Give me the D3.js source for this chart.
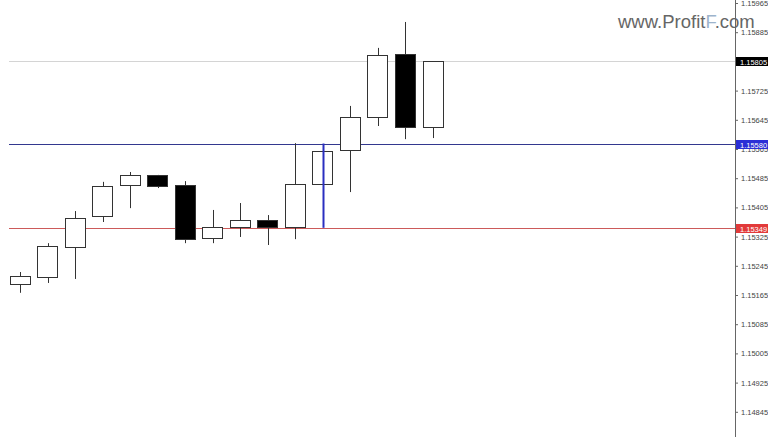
<!DOCTYPE html>
<html><head><meta charset="utf-8">
<script src="https://cdn.jsdelivr.net/npm/d3@7/dist/d3.min.js"></script>
<style>body{margin:0;background:#fff;}svg{display:block;}</style>
</head><body>
<svg id="c" width="768" height="437"></svg>
<script>
const opens  = [1.15195,1.15214,1.15297,1.15381,1.15466,1.15494,1.15466,1.15321,1.15351,1.15370,1.15351,1.15469,1.15562,1.15653,1.15825,1.15625];
const highs  = [1.15228,1.15307,1.15395,1.15475,1.15502,1.15494,1.15477,1.15398,1.15417,1.15384,1.15581,1.15568,1.15683,1.15842,1.15913,1.15806];
const lows   = [1.15171,1.15198,1.15209,1.15365,1.15403,1.15458,1.15307,1.15307,1.15324,1.15302,1.15318,1.15461,1.15447,1.15628,1.15592,1.15595];
const closes = [1.15217,1.15299,1.15376,1.15464,1.15494,1.15464,1.15318,1.15351,1.15370,1.15351,1.15469,1.15560,1.15653,1.15823,1.15625,1.15806];
const tickValues = [1.15965,1.15885,1.15805,1.15725,1.15645,1.15565,1.15485,1.15405,1.15325,1.15245,1.15165,1.15085,1.15005,1.14925,1.14845];
const levelValues = [1.15805,1.15580,1.15349];
const levelLabels = ["1.15805","1.15580","1.15349"];
const levelColors = ["#d4d4d4","#33388f","#cc5a5a"];
const levelBoxColors = ["#000000","#2b2fd6","#e23a3a"];
const markerIndex = 11;

const svg = d3.select("#c");
const axisX = 735;
const y = d3.scaleLinear().domain([1.15965, 1.14845]).range([3, 411.8]);
const x = d3.scaleLinear().domain([0, 15]).range([20, 433]);
const bw = 21;

// level lines
svg.selectAll("line.level").data(levelValues).enter().append("line")
  .attr("x1", 9).attr("x2", axisX)
  .attr("y1", d => Math.round(y(d)) + 0.5).attr("y2", d => Math.round(y(d)) + 0.5)
  .attr("stroke", (d,i) => levelColors[i]).attr("stroke-width", 1);

// candles
const data = opens.map((o,i) => ({i, o, h: highs[i], l: lows[i], c: closes[i]}));
const g = svg.append("g");
g.selectAll("line.wick").data(data).enter().append("line")
  .attr("x1", d => Math.round(x(d.i)) + 0.5).attr("x2", d => Math.round(x(d.i)) + 0.5)
  .attr("y1", d => y(d.h)).attr("y2", d => y(d.l))
  .attr("stroke", "#333").attr("stroke-width", 1);
g.selectAll("rect.body").data(data).enter().append("rect")
  .attr("x", d => Math.round(x(d.i) - bw/2) + 0.5)
  .attr("y", d => Math.round(y(Math.max(d.o, d.c))) + 0.5)
  .attr("width", bw - 1)
  .attr("height", d => Math.max(1, Math.round(y(Math.min(d.o, d.c)) - y(Math.max(d.o, d.c)))))
  .attr("fill", d => d.c >= d.o ? "#fff" : "#000")
  .attr("stroke", "#333").attr("stroke-width", 1);

// blue vertical marker
svg.append("line")
  .attr("x1", Math.round(x(markerIndex)) + 0.5).attr("x2", Math.round(x(markerIndex)) + 0.5)
  .attr("y1", y(levelValues[1])).attr("y2", y(levelValues[2]))
  .attr("stroke", "#2a2fc0").attr("stroke-width", 2);

// axis
const ax = svg.append("g").attr("transform", `translate(${axisX},0)`)
  .call(d3.axisRight(y).tickValues(tickValues).tickSize(3).tickPadding(3).tickFormat(d3.format(".5f")));
ax.select(".domain").remove();
ax.selectAll(".tick line").attr("stroke", "#666");
ax.selectAll(".tick text").attr("fill", "#444").style("font-family", "'Liberation Sans', Arial, sans-serif").style("font-size", "7.5px");
svg.append("line").attr("x1", axisX + 0.5).attr("x2", axisX + 0.5).attr("y1", 0).attr("y2", 437)
  .attr("stroke", "#666").attr("stroke-width", 1);

// level labels
const lb = svg.selectAll("g.lbl").data(levelValues).enter().append("g");
lb.append("rect").attr("x", axisX + 1).attr("width", 33)
  .attr("y", d => Math.round(y(d)) - 4).attr("height", 9)
  .attr("fill", (d,i) => levelBoxColors[i]);
lb.append("text").attr("x", axisX + 5).attr("y", d => Math.round(y(d)) + 3.5)
  .attr("fill", "#fff").style("font-family", "'Liberation Sans', Arial, sans-serif").style("font-size", "7.5px")
  .text((d,i) => levelLabels[i]);

// watermark
const wm = svg.append("text").attr("x", 618).attr("y", 28)
  .style("font-family", "'Liberation Sans', Arial, sans-serif").style("font-size", "18.5px").attr("fill", "#666");
wm.append("tspan").text("www.Profit");
wm.append("tspan").attr("fill", "#9db4cc").text("F");
wm.append("tspan").text(".com");
</script>
</body></html>
